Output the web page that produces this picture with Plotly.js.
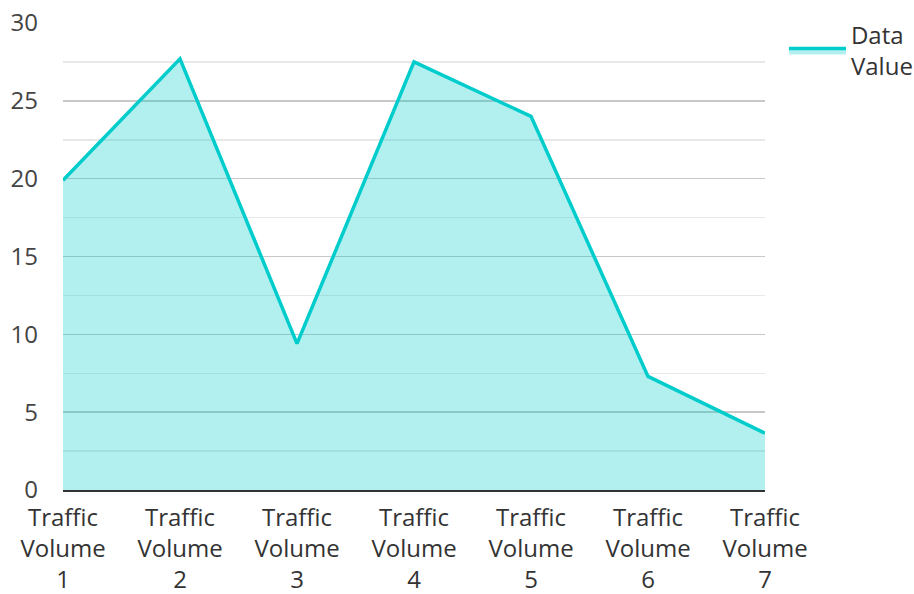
<!DOCTYPE html>
<html>
<head>
<meta charset="utf-8">
<script src="https://cdn.plot.ly/plotly-3.0.1.min.js"></script>
<style>html,body{margin:0;padding:0;background:#fff;}#chart{width:914px;height:594px;}</style>
</head>
<body>
<div id="chart"></div>
<script>
var categories = ["Traffic<br>Volume<br>1","Traffic<br>Volume<br>2","Traffic<br>Volume<br>3","Traffic<br>Volume<br>4","Traffic<br>Volume<br>5","Traffic<br>Volume<br>6","Traffic<br>Volume<br>7"];
var dataValues = [19.9, 27.7, 9.4, 27.5, 24.0, 7.3, 3.65];
var seriesName = "Data<br>Value";
var yTicks = [0, 5, 10, 15, 20, 25, 30];

var trace = {
  x: categories,
  y: dataValues,
  type: 'scatter',
  mode: 'lines',
  name: seriesName,
  fill: 'tozeroy',
  fillcolor: 'rgba(0,204,204,0.3)',
  line: {color: '#00cccc', width: 3.5}
};

var layout = {
  width: 914, height: 594,
  margin: {l: 63, r: 149, t: 23, b: 104, autoexpand: false},
  paper_bgcolor: '#fff', plot_bgcolor: '#fff',
  font: {family: 'Open Sans, Noto Sans, sans-serif', size: 24, color: '#333'},
  showlegend: true,
  legend: {x: 1.027, y: 1.022, xanchor: 'left', yanchor: 'top', itemwidth: 57, font: {size: 24, color: '#333'}, bgcolor: 'rgba(0,0,0,0)'},
  xaxis: {
    type: 'category',
    range: [0, 6],
    showgrid: false,
    zeroline: false,
    showline: true, linecolor: '#333', linewidth: 2,
    ticks: '', ticklabelstandoff: 5,
    tickfont: {size: 24, color: '#333'},
    fixedrange: true
  },
  yaxis: {
    range: [0, 30],
    tickvals: yTicks,
    ticktext: yTicks.map(String),
    showgrid: true, gridcolor: '#c8c8c8', gridwidth: 1.5,
    zeroline: false,
    showline: false,
    ticks: '', ticklabelstandoff: 24,
    tickfont: {size: 24, color: '#444'},
    minor: {dtick: 2.5, tick0: 0, showgrid: true, gridcolor: '#e8e8e8', gridwidth: 1.5},
    fixedrange: true
  }
};

Plotly.newPlot('chart', [trace], layout, {displayModeBar: false, staticPlot: true});
</script>
</body>
</html>
